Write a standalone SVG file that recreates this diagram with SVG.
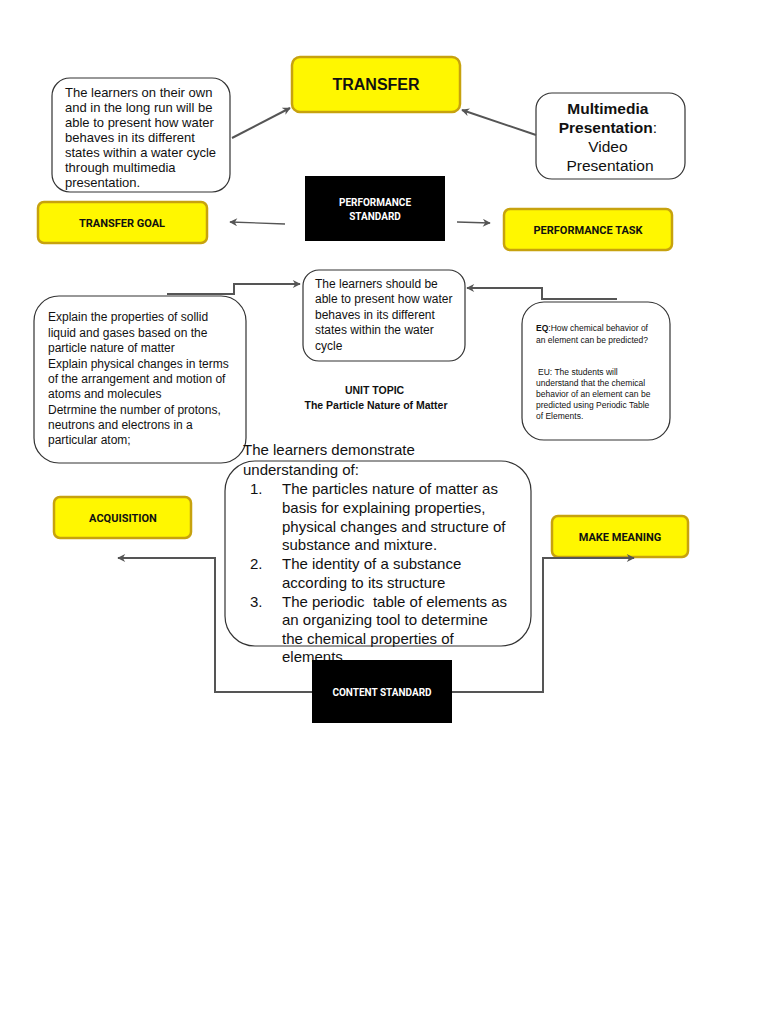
<svg xmlns="http://www.w3.org/2000/svg" width="768" height="1024" viewBox="0 0 768 1024">
<style>
.y{fill:#fff700;stroke:#c7a20e;stroke-width:2.5}
.b{fill:#000}
.w{fill:#fff;stroke:#333;stroke-width:1.2}
.t{font-family:"Liberation Sans",Arial,sans-serif;fill:#111}
.yl{font-family:Roboto,"Liberation Sans",sans-serif;font-weight:bold;font-size:11px;fill:#111;text-anchor:middle}
.wl{font-family:Roboto,"Liberation Sans",sans-serif;font-weight:bold;font-size:10px;fill:#fff;text-anchor:middle}
.c{fill:none;stroke:#555;stroke-width:2}
.c1{fill:none;stroke:#555;stroke-width:1.3}
</style>
<defs>
<marker id="ah" viewBox="0 0 10 10" refX="9" refY="5" markerWidth="9" markerHeight="8" markerUnits="userSpaceOnUse" orient="auto">
<path d="M0,0 L10,5 L0,10 L3,5 z" fill="#555"/>
</marker>
</defs>
<rect width="768" height="1024" fill="#fff"/>
<g id="transfer">
<rect class="y" x="292" y="57" width="168" height="55" rx="8"/>
<text class="t" x="376" y="90" font-size="16" font-weight="bold" text-anchor="middle">TRANSFER</text>
</g>
<g id="transfer-text">
<rect class="w" x="52" y="78" width="178" height="114" rx="18"/>
<text class="t" font-size="13">
<tspan x="65" y="97">The learners on their own</tspan>
<tspan x="65" y="112">and in the long run will be</tspan>
<tspan x="65" y="127">able to present how water</tspan>
<tspan x="65" y="142">behaves in its different</tspan>
<tspan x="65" y="157">states within a water cycle</tspan>
<tspan x="65" y="172">through multimedia</tspan>
<tspan x="65" y="187">presentation.</tspan>
</text>
</g>
<g id="multimedia">
<rect class="w" x="536" y="93" width="149" height="86" rx="16"/>
<text class="t" font-size="15.5" text-anchor="middle">
<tspan x="610" y="114" font-weight="bold">Multimedia</tspan>
<tspan x="610" y="133"><tspan font-weight="bold">Presentation</tspan>:</tspan>
<tspan x="610" y="152">Video</tspan>
<tspan x="610" y="171">Presentation</tspan>
</text>
</g>
<g id="performance-standard">
<rect class="b" x="305" y="176" width="140" height="65"/>
<text class="wl"><tspan x="375" y="206">PERFORMANCE</tspan><tspan x="375" y="220">STANDARD</tspan></text>
</g>
<g id="transfer-goal">
<rect class="y" x="38" y="202" width="169" height="41" rx="6"/>
<text class="yl" x="122" y="227">TRANSFER GOAL</text>
</g>
<g id="performance-task">
<rect class="y" x="504" y="209" width="168" height="41" rx="6"/>
<text class="yl" x="588" y="234" font-size="10.5">PERFORMANCE TASK</text>
</g>
<g id="performance-text">
<rect class="w" x="303" y="270" width="162" height="91" rx="16"/>
<text class="t" font-size="12">
<tspan x="315" y="288">The learners should be</tspan>
<tspan x="315" y="303">able to present how water</tspan>
<tspan x="315" y="319">behaves in its different</tspan>
<tspan x="315" y="334">states within the water</tspan>
<tspan x="315" y="350">cycle</tspan>
</text>
</g>
<g id="acquisition-text">
<rect class="w" x="34" y="296" width="212" height="167" rx="25"/>
<text class="t" font-size="12">
<tspan x="48" y="321">Explain the properties of sollid</tspan>
<tspan x="48" y="337">liquid and gases based on the</tspan>
<tspan x="48" y="352">particle nature of matter</tspan>
<tspan x="48" y="368">Explain physical changes in terms</tspan>
<tspan x="48" y="383">of the arrangement and motion of</tspan>
<tspan x="48" y="398">atoms and molecules</tspan>
<tspan x="48" y="414">Detrmine the number of protons,</tspan>
<tspan x="48" y="429">neutrons and electrons in a</tspan>
<tspan x="48" y="444">particular atom;</tspan>
</text>
</g>
<g id="eq-eu">
<rect class="w" x="522" y="302" width="148" height="138" rx="22"/>
<text class="t" font-size="8.5">
<tspan x="536" y="331"><tspan font-weight="bold">EQ</tspan>:How chemical behavior of</tspan>
<tspan x="536" y="343">an element can be predicted?</tspan>
<tspan x="538" y="375">EU: The students will</tspan>
<tspan x="536" y="386">understand that the chemical</tspan>
<tspan x="536" y="397">behavior of an element can be</tspan>
<tspan x="536" y="408">predicted using Periodic Table</tspan>
<tspan x="536" y="419">of Elements.</tspan>
</text>
</g>
<g id="unit-topic">
<text class="t" font-size="10.5" font-weight="bold" text-anchor="middle">
<tspan x="376" y="394">UNIT TOPIC</tspan>
<tspan x="376" y="408.5">The Particle Nature of Matter</tspan>
</text>
</g>
<g id="content-text">
<rect class="w" x="225" y="461" width="306" height="185" rx="30"/>
<text class="t" font-size="15">
<tspan x="243" y="455">The learners demonstrate</tspan>
<tspan x="243" y="475">understanding of:</tspan>
<tspan x="250" y="494">1.</tspan><tspan x="282" y="494">The particles nature of matter as</tspan>
<tspan x="282" y="513">basis for explaining properties,</tspan>
<tspan x="282" y="532">physical changes and structure of</tspan>
<tspan x="282" y="550">substance and mixture.</tspan>
<tspan x="250" y="569">2.</tspan><tspan x="282" y="569">The identity of a substance</tspan>
<tspan x="282" y="588">according to its structure</tspan>
<tspan x="250" y="607">3.</tspan><tspan x="282" y="607">The periodic&#160; table of elements as</tspan>
<tspan x="282" y="625">an organizing tool to determine</tspan>
<tspan x="282" y="644">the chemical properties of</tspan>
<tspan x="282" y="662">elements</tspan>
</text>
</g>
<g id="acquisition">
<rect class="y" x="54" y="497" width="137" height="41" rx="6"/>
<text class="yl" x="123" y="522">ACQUISITION</text>
</g>
<g id="make-meaning">
<rect class="y" x="552" y="516" width="136" height="41" rx="6"/>
<text class="yl" x="620" y="541">MAKE MEANING</text>
</g>
<g id="content-standard">
<rect class="b" x="312" y="660" width="140" height="63"/>
<text class="wl" x="382" y="696">CONTENT STANDARD</text>
</g>
<g id="connectors">
<line class="c" x1="232" y1="138" x2="290" y2="108" marker-end="url(#ah)"/>
<line class="c" x1="536" y1="135" x2="462" y2="110" marker-end="url(#ah)"/>
<line class="c1" x1="285" y1="224" x2="230" y2="222" marker-end="url(#ah)"/>
<line class="c1" x1="457" y1="222" x2="490" y2="223" marker-end="url(#ah)"/>
<polyline class="c" points="167,294 234,294 234,284 300,284" marker-end="url(#ah)"/>
<polyline class="c" points="617,299 542,299 542,288 467,288" marker-end="url(#ah)"/>
<polyline class="c" points="312,692 215,692 215,558 118,558" marker-end="url(#ah)"/>
<polyline class="c" points="452,692 543,692 543,558 634,558" marker-end="url(#ah)"/>
</g>
</svg>
